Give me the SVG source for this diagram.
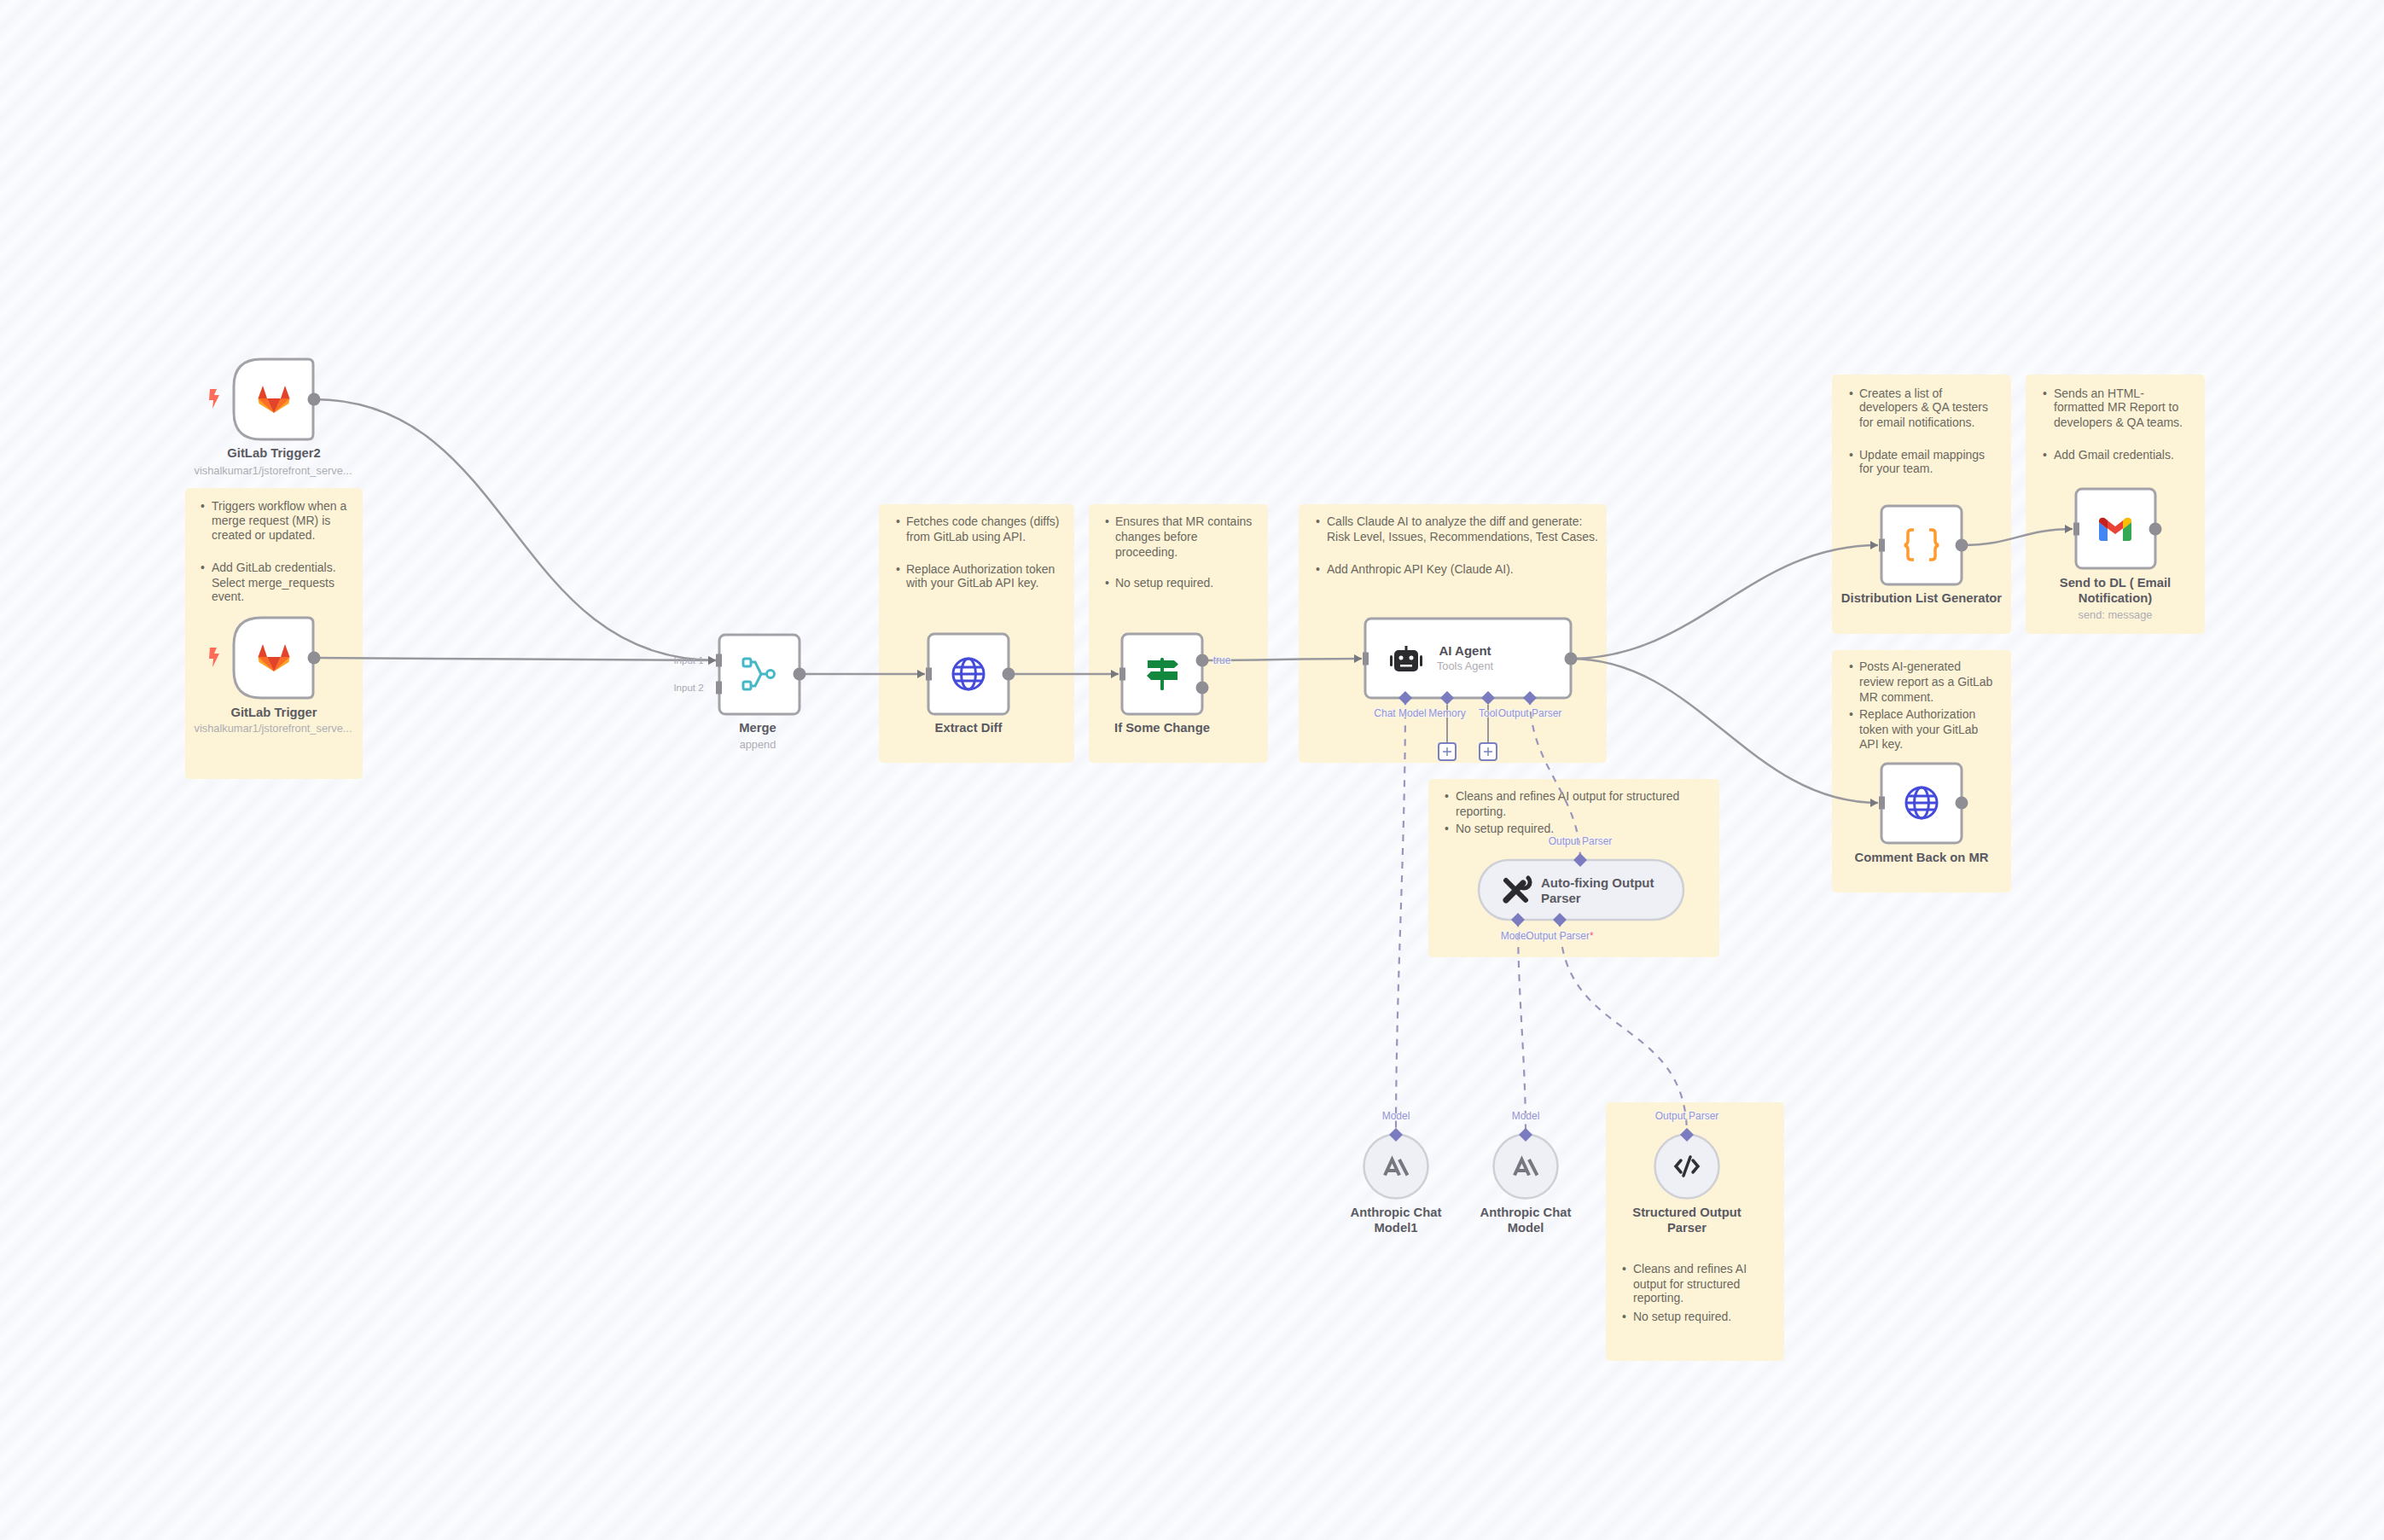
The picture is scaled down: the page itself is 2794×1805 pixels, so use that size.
<svg xmlns="http://www.w3.org/2000/svg" width="2794" height="1805" viewBox="0 0 2794 1805">
<style>
text{font-family:"Liberation Sans",Arial,sans-serif}
.sticky{fill:#fdf3d6}
.n{font-size:14px;fill:#6b695f}
.t{font-size:14.800px;font-weight:700;fill:#5a5a63;text-anchor:middle}
.s{font-size:12.800px;fill:#adadb4;text-anchor:middle}
.box{fill:#fff;stroke:#a2a2a8;stroke-width:3}
.sub{fill:#eef0f6;stroke:#cfd0d6;stroke-width:2.500}
.port{font-size:12px;fill:#9494d2;text-anchor:middle;paint-order:stroke;stroke:#f8f8fb;stroke-opacity:.75;stroke-width:2px}
.in{font-size:11.500px;fill:#a8a8b0;text-anchor:middle}
.c{fill:none;stroke:#98989e;stroke-width:2.500;marker-end:url(#arrow)}
.d{fill:none;stroke:#9a95bd;stroke-width:2.200;stroke-dasharray:8 8}
.o{fill:#8e8e94}
.dia{fill:#7a7cbf}
.globe{fill:none;stroke:#444bda;stroke-width:3}
</style>
<defs>
<linearGradient id="sg" x1="0" x2="1" y1="0" y2="0"><stop offset="0" stop-color="#f5f6fb"/><stop offset=".5" stop-color="#fbfcfe"/><stop offset="1" stop-color="#f5f6fb"/></linearGradient>
<pattern id="bg" width="25" height="25" patternUnits="userSpaceOnUse" patternTransform="rotate(45)"><rect width="25" height="25" fill="url(#sg)"/></pattern>
<marker id="arrow" markerUnits="userSpaceOnUse" markerWidth="10" markerHeight="12" refX="9" refY="6" orient="auto"><path d="M0 1L9 6L0 11Z" fill="#77777e"/></marker>
<g id="fox">
<path d="M-13-16L-18.500-1H-8Z" fill="#e24329"/><path d="M13-16L18.500-1H8Z" fill="#e24329"/>
<path d="M-18.500-1L-17.500 5L0 16L-8-1Z" fill="#fca326"/><path d="M18.500-1L17.500 5L0 16L8-1Z" fill="#fca326"/>
<path d="M-18.500-1H-8L0 16Z" fill="#fc6d26"/><path d="M18.500-1H8L0 16Z" fill="#fc6d26"/>
<path d="M-8-1H8L0 16Z" fill="#e24329"/>
</g>
<path id="bolt" d="M-5-11H3L0-4H6L-2 12L-1 2H-6Z" fill="#ff6d5a"/>
<g id="globe" class="globe"><circle r="18"/><ellipse rx="8.500" ry="18"/><path d="M-16.500-8H16.500M-16.500 8H16.500M-18 0H18"/></g>
<g id="anth" fill="none" stroke="#77777f" stroke-width="4"><path d="M-14 9.500L-5.500-9L3 9.500M-10.500 4H-.5M3-9L12.500 9.500"/></g>
<path id="inport" d="M-3-7.500H4V7.500H-3Z" fill="#8e8e94"/>
</defs>
<rect id="background" width="2794" height="1805" fill="url(#bg)"/>

<g id="note-trigger"><rect class="sticky" x="217" y="572" width="208" height="341" rx="5"/>
<text class="n" x="235" y="598">•</text><text class="n" x="248" y="598">Triggers workflow when a</text><text class="n" x="248" y="615">merge request (MR) is</text><text class="n" x="248" y="632">created or updated.</text>
<text class="n" x="235" y="670">•</text><text class="n" x="248" y="670">Add GitLab credentials.</text><text class="n" x="248" y="688">Select merge_requests</text><text class="n" x="248" y="704">event.</text></g>
<g id="note-diff"><rect class="sticky" x="1030" y="591" width="229" height="303" rx="5"/>
<text class="n" x="1050" y="616">•</text><text class="n" x="1062" y="616">Fetches code changes (diffs)</text><text class="n" x="1062" y="634">from GitLab using API.</text>
<text class="n" x="1050" y="672">•</text><text class="n" x="1062" y="672">Replace Authorization token</text><text class="n" x="1062" y="688">with your GitLab API key.</text></g>
<g id="note-if"><rect class="sticky" x="1276" y="591" width="210" height="303" rx="5"/>
<text class="n" x="1295" y="616">•</text><text class="n" x="1307" y="616">Ensures that MR contains</text><text class="n" x="1307" y="634">changes before</text><text class="n" x="1307" y="652">proceeding.</text>
<text class="n" x="1295" y="688">•</text><text class="n" x="1307" y="688">No setup required.</text></g>
<g id="note-agent"><rect class="sticky" x="1522" y="591" width="361" height="303" rx="5"/>
<text class="n" x="1542" y="616">•</text><text class="n" x="1555" y="616">Calls Claude AI to analyze the diff and generate:</text><text class="n" x="1555" y="634">Risk Level, Issues, Recommendations, Test Cases.</text>
<text class="n" x="1542" y="672">•</text><text class="n" x="1555" y="672">Add Anthropic API Key (Claude AI).</text></g>
<g id="note-autofix"><rect class="sticky" x="1674" y="913" width="341" height="209" rx="5"/>
<text class="n" x="1693" y="938">•</text><text class="n" x="1706" y="938">Cleans and refines AI output for structured</text><text class="n" x="1706" y="956">reporting.</text>
<text class="n" x="1693" y="976">•</text><text class="n" x="1706" y="976">No setup required.</text></g>
<g id="note-structured"><rect class="sticky" x="1882" y="1292" width="209" height="303" rx="5"/>
<text class="n" x="1901" y="1492">•</text><text class="n" x="1914" y="1492">Cleans and refines AI</text><text class="n" x="1914" y="1510">output for structured</text><text class="n" x="1914" y="1526">reporting.</text>
<text class="n" x="1901" y="1548">•</text><text class="n" x="1914" y="1548">No setup required.</text></g>
<g id="note-dl"><rect class="sticky" x="2147" y="439" width="210" height="304" rx="5"/>
<text class="n" x="2167" y="466">•</text><text class="n" x="2179" y="466">Creates a list of</text><text class="n" x="2179" y="482">developers &amp; QA testers</text><text class="n" x="2179" y="500">for email notifications.</text>
<text class="n" x="2167" y="538">•</text><text class="n" x="2179" y="538">Update email mappings</text><text class="n" x="2179" y="554">for your team.</text></g>
<g id="note-gmail"><rect class="sticky" x="2374" y="439" width="210" height="304" rx="5"/>
<text class="n" x="2394" y="466">•</text><text class="n" x="2407" y="466">Sends an HTML-</text><text class="n" x="2407" y="482">formatted MR Report to</text><text class="n" x="2407" y="500">developers &amp; QA teams.</text>
<text class="n" x="2394" y="538">•</text><text class="n" x="2407" y="538">Add Gmail credentials.</text></g>
<g id="note-comment"><rect class="sticky" x="2147" y="762" width="210" height="284" rx="5"/>
<text class="n" x="2167" y="786">•</text><text class="n" x="2179" y="786">Posts AI-generated</text><text class="n" x="2179" y="804">review report as a GitLab</text><text class="n" x="2179" y="822">MR comment.</text>
<text class="n" x="2167" y="842">•</text><text class="n" x="2179" y="842">Replace Authorization</text><text class="n" x="2179" y="860">token with your GitLab</text><text class="n" x="2179" y="877">API key.</text></g>

<g id="connectors">
<path class="c" d="M368 468C600 468 600 774 839 774"/>
<path class="c" d="M368 771C560 771 650 774 839 774"/>
<path class="c" d="M937 790H1084"/>
<path class="c" d="M1182 790H1311"/>
<path class="c" d="M1409 774C1480 774 1520 772 1596 772"/>
<path class="c" d="M1841 772C1990 772 2050 639 2201 639"/>
<path class="c" d="M1841 772C1990 772 2050 941 2201 941"/>
<path class="c" d="M2299 639C2360 639 2370 620 2429 620"/>
<path class="d" d="M1647 818C1647 1000 1636 1150 1636 1330"/>
<path class="d" d="M1793 818C1793 900 1852 930 1852 1008"/>
<path class="d" d="M1779 1078C1779 1170 1788 1240 1788 1330"/>
<path class="d" d="M1828 1078C1828 1220 1977 1190 1977 1330"/>
<path d="M1696 826V871M1744 826V871" fill="none" stroke="#98989e" stroke-width="2"/>
</g>

<g id="trigger2"><path class="box" d="M306 421H361Q367 421 367 427V509Q367 515 361 515H306Q274 515 274 483V453Q274 421 306 421Z"/>
<use href="#fox" x="321" y="468"/><use href="#bolt" x="251" y="467"/><circle class="o" cx="368" cy="468" r="7.500"/>
<text class="t" x="321" y="536">GitLab Trigger2</text><text class="s" x="320" y="556">vishalkumar1/jstorefront_serve...</text></g>

<g id="trigger"><path class="box" d="M306 724H361Q367 724 367 730V812Q367 818 361 818H306Q274 818 274 786V756Q274 724 306 724Z"/>
<use href="#fox" x="321" y="771"/><use href="#bolt" x="251" y="770"/><circle class="o" cx="368" cy="771" r="7.500"/>
<text class="t" x="321" y="840">GitLab Trigger</text><text class="s" x="320" y="858">vishalkumar1/jstorefront_serve...</text></g>

<g id="merge"><rect class="box" x="843" y="744" width="94" height="93" rx="7"/>
<use href="#inport" x="842" y="774"/><use href="#inport" x="842" y="806"/>
<g fill="none" stroke="#45b8c8" stroke-width="3"><rect x="871" y="772" width="9" height="9" rx="2"/><rect x="871" y="799" width="9" height="9" rx="2"/><circle cx="903" cy="790" r="4.500"/><path d="M880 776H885L892 790H898M880 804H885L892 790"/></g>
<circle class="o" cx="937" cy="790" r="7.500"/>
<text class="in" x="807" y="778">Input 1</text><text class="in" x="807" y="810">Input 2</text>
<text class="t" x="888" y="858">Merge</text><text class="s" x="888" y="877">append</text></g>

<g id="extract-diff"><rect class="box" x="1088" y="743" width="94" height="94" rx="7"/>
<use href="#inport" x="1088" y="790"/><use href="#globe" x="1135" y="790"/><circle class="o" cx="1182" cy="790" r="7.500"/>
<text class="t" x="1135" y="858">Extract Diff</text></g>

<g id="if-change"><rect class="box" x="1315" y="743" width="94" height="94" rx="7"/>
<use href="#inport" x="1315" y="790"/>
<g fill="#12883e"><rect x="1360" y="771" width="4" height="38" rx="1.500"/><path d="M1345 774H1376L1381 778.500L1376 783H1345Z"/><path d="M1349 787H1380V797H1349L1344 792Z"/></g>
<circle class="o" cx="1409" cy="774" r="7.500"/><circle class="o" cx="1409" cy="806" r="7.500"/>
<text class="port" x="1432" y="778">true</text>
<text class="t" x="1362" y="858">If Some Change</text></g>

<g id="ai-agent"><rect class="box" x="1600" y="725" width="241" height="93" rx="7"/>
<use href="#inport" x="1600" y="772"/>
<g fill="#2c2c30"><rect x="1634" y="762" width="28" height="25" rx="5"/><rect x="1629" y="768" width="3" height="13" rx="1.500"/><rect x="1664" y="768" width="3" height="13" rx="1.500"/><rect x="1646.500" y="757" width="3" height="6"/></g>
<g fill="#fff"><circle cx="1642" cy="771" r="2.500"/><circle cx="1654" cy="771" r="2.500"/><rect x="1641" y="779" width="14" height="2.500"/></g>
<circle class="o" cx="1841" cy="772" r="7.500"/>
<text x="1717" y="768" text-anchor="middle" font-size="15" font-weight="700" fill="#50505a">AI Agent</text><text class="s" x="1717" y="785">Tools Agent</text>
<path class="dia" d="M1647 810L1655 818L1647 826L1639 818ZM1696 810L1704 818L1696 826L1688 818ZM1744 810L1752 818L1744 826L1736 818ZM1793 810L1801 818L1793 826L1785 818Z"/>
<text class="port" x="1641" y="840">Chat Model</text><text class="port" x="1696" y="840">Memory</text><text class="port" x="1744" y="840">Tool</text><text class="port" x="1793" y="840">Output Parser</text>
<g fill="#fff" stroke="#7b80c4" stroke-width="2"><rect x="1686" y="871" width="20" height="20" rx="3"/><rect x="1734" y="871" width="20" height="20" rx="3"/></g>
<path d="M1691 881H1701M1696 876V886M1739 881H1749M1744 876V886" stroke="#7b80c4" stroke-width="1.500"/></g>

<g id="autofix"><rect class="sub" x="1733" y="1008" width="240" height="70" rx="35"/>
<g stroke="#2c2c30" fill="none" stroke-linecap="round"><path d="M1765 1032L1788 1055" stroke-width="6"/><path d="M1765 1055L1785 1035" stroke-width="7"/><path d="M1791 1029A7 7 0 0 1 1781 1039" stroke-width="5"/></g>
<text x="1806" y="1040" font-size="15" font-weight="700" fill="#5a5a63">Auto-fixing Output</text><text x="1806" y="1058" font-size="15" font-weight="700" fill="#5a5a63">Parser</text>
<path class="dia" d="M1852 1000L1860 1008L1852 1016L1844 1008ZM1779 1070L1787 1078L1779 1086L1771 1078ZM1828 1070L1836 1078L1828 1086L1820 1078Z"/>
<text class="port" x="1852" y="990">Output Parser</text>
<text class="port" x="1775" y="1101">Model</text><text class="port" x="1828" y="1101">Output Parser<tspan fill="#ff5a4f">*</tspan></text></g>

<g id="anthropic1"><circle class="sub" cx="1636" cy="1367" r="37.500"/><use href="#anth" x="1637" y="1368"/>
<path class="dia" d="M1636 1322L1644 1330L1636 1338L1628 1330Z"/><text class="port" x="1636" y="1312">Model</text>
<text class="t" x="1636" y="1426">Anthropic Chat</text><text class="t" x="1636" y="1444">Model1</text></g>
<g id="anthropic2"><circle class="sub" cx="1788" cy="1367" r="37.500"/><use href="#anth" x="1789" y="1368"/>
<path class="dia" d="M1788 1322L1796 1330L1788 1338L1780 1330Z"/><text class="port" x="1788" y="1312">Model</text>
<text class="t" x="1788" y="1426">Anthropic Chat</text><text class="t" x="1788" y="1444">Model</text></g>
<g id="structured"><circle class="sub" cx="1977" cy="1367" r="37.500"/>
<path d="M1970 1360L1964 1367L1970 1374M1984 1360L1990 1367L1984 1374M1981 1356L1973 1378" fill="none" stroke="#2f2f35" stroke-width="3.500" stroke-linecap="round"/>
<path class="dia" d="M1977 1322L1985 1330L1977 1338L1969 1330Z"/><text class="port" x="1977" y="1312">Output Parser</text>
<text class="t" x="1977" y="1426">Structured Output</text><text class="t" x="1977" y="1444">Parser</text></g>

<g id="dl-generator"><rect class="box" x="2205" y="593" width="94" height="92" rx="7"/>
<use href="#inport" x="2205" y="639"/>
<path d="M2243 621H2240Q2236 621 2236 625V634Q2236 638 2232 639Q2236 640 2236 644V652Q2236 656 2240 656H2243M2261 621H2264Q2268 621 2268 625V634Q2268 638 2272 639Q2268 640 2268 644V652Q2268 656 2264 656H2261" fill="none" stroke="#ff9a2e" stroke-width="3.500"/>
<circle class="o" cx="2299" cy="639" r="7.500"/>
<text class="t" x="2252" y="706">Distribution List Generator</text></g>

<g id="gmail"><rect class="box" x="2433" y="573" width="93" height="93" rx="7"/>
<use href="#inport" x="2433" y="620"/>
<path d="M2460 612L2470 620V634H2463Q2460 634 2460 631Z" fill="#4285f4"/>
<path d="M2498 612L2488 620V634H2495Q2498 634 2498 631Z" fill="#34a853"/>
<path d="M2460 612L2466 607L2479 617L2492 607L2498 612L2479 626Z" fill="#ea4335"/>
<path d="M2460 612V610Q2461 606 2466 607L2470 610V620Z" fill="#c5221f"/>
<path d="M2498 612V610Q2497 606 2492 607L2488 610V620Z" fill="#fbbc04"/>
<circle class="o" cx="2526" cy="620" r="7.500"/>
<text class="t" x="2479" y="688">Send to DL ( Email</text><text class="t" x="2479" y="706">Notification)</text><text class="s" x="2479" y="725">send: message</text></g>

<g id="comment-back"><rect class="box" x="2205" y="895" width="94" height="93" rx="7"/>
<use href="#inport" x="2205" y="941"/><use href="#globe" x="2252" y="941"/><circle class="o" cx="2299" cy="941" r="7.500"/>
<text class="t" x="2252" y="1010">Comment Back on MR</text></g>
</svg>
